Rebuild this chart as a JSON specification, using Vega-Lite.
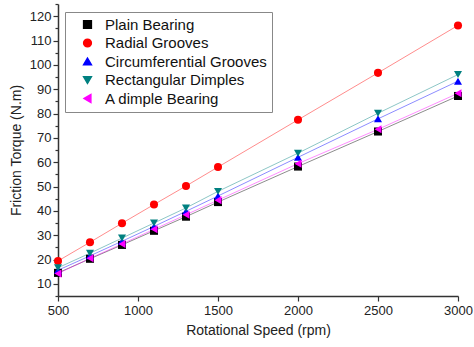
{
  "$schema": "https://vega.github.io/schema/vega-lite/v6.json",
  "width": 400,
  "height": 292,
  "autosize": {"type": "none"},
  "padding": {"left": 58, "top": 4, "right": 16, "bottom": 51},
  "background": "white",
  "config": {
    "view": {"stroke": null},
    "font": "Liberation Sans",
    "axis": {"domainColor": "#333333", "tickColor": "#333333", "labelColor": "#222222", "titleColor": "#222222", "domainWidth": 1.5, "tickWidth": 1.2, "grid": false, "labelFont": "Liberation Sans", "titleFont": "Liberation Sans", "titleFontWeight": "normal"},
    "legend": {"symbolOpacity": 1, "labelLimit": 300}
  },
  "data": {"values": [
    {"s": "Plain Bearing", "rpm": 500, "t": 14.5},
    {"s": "Plain Bearing", "rpm": 700, "t": 20.3},
    {"s": "Plain Bearing", "rpm": 900, "t": 26.0},
    {"s": "Plain Bearing", "rpm": 1100, "t": 31.8},
    {"s": "Plain Bearing", "rpm": 1300, "t": 37.6},
    {"s": "Plain Bearing", "rpm": 1500, "t": 43.6},
    {"s": "Plain Bearing", "rpm": 2000, "t": 58.2},
    {"s": "Plain Bearing", "rpm": 2500, "t": 72.6},
    {"s": "Plain Bearing", "rpm": 3000, "t": 87.2},
    {"s": "Radial Grooves", "rpm": 500, "t": 19.4},
    {"s": "Radial Grooves", "rpm": 700, "t": 27.1},
    {"s": "Radial Grooves", "rpm": 900, "t": 34.9},
    {"s": "Radial Grooves", "rpm": 1100, "t": 42.6},
    {"s": "Radial Grooves", "rpm": 1300, "t": 50.2},
    {"s": "Radial Grooves", "rpm": 1500, "t": 58.0},
    {"s": "Radial Grooves", "rpm": 2000, "t": 77.4},
    {"s": "Radial Grooves", "rpm": 2500, "t": 96.7},
    {"s": "Radial Grooves", "rpm": 3000, "t": 116.2},
    {"s": "Circumferential Grooves", "rpm": 500, "t": 15.6},
    {"s": "Circumferential Grooves", "rpm": 700, "t": 21.5},
    {"s": "Circumferential Grooves", "rpm": 900, "t": 27.5},
    {"s": "Circumferential Grooves", "rpm": 1100, "t": 33.6},
    {"s": "Circumferential Grooves", "rpm": 1300, "t": 39.8},
    {"s": "Circumferential Grooves", "rpm": 1500, "t": 46.1},
    {"s": "Circumferential Grooves", "rpm": 2000, "t": 62.0},
    {"s": "Circumferential Grooves", "rpm": 2500, "t": 77.8},
    {"s": "Circumferential Grooves", "rpm": 3000, "t": 93.3},
    {"s": "Rectangular Dimples", "rpm": 500, "t": 16.6},
    {"s": "Rectangular Dimples", "rpm": 700, "t": 22.6},
    {"s": "Rectangular Dimples", "rpm": 900, "t": 28.8},
    {"s": "Rectangular Dimples", "rpm": 1100, "t": 35.0},
    {"s": "Rectangular Dimples", "rpm": 1300, "t": 41.2},
    {"s": "Rectangular Dimples", "rpm": 1500, "t": 48.0},
    {"s": "Rectangular Dimples", "rpm": 2000, "t": 63.7},
    {"s": "Rectangular Dimples", "rpm": 2500, "t": 80.1},
    {"s": "Rectangular Dimples", "rpm": 3000, "t": 96.0},
    {"s": "A dimple Bearing", "rpm": 500, "t": 14.2},
    {"s": "A dimple Bearing", "rpm": 700, "t": 20.5},
    {"s": "A dimple Bearing", "rpm": 900, "t": 26.4},
    {"s": "A dimple Bearing", "rpm": 1100, "t": 32.4},
    {"s": "A dimple Bearing", "rpm": 1300, "t": 38.4},
    {"s": "A dimple Bearing", "rpm": 1500, "t": 44.4},
    {"s": "A dimple Bearing", "rpm": 2000, "t": 59.4},
    {"s": "A dimple Bearing", "rpm": 2500, "t": 73.5},
    {"s": "A dimple Bearing", "rpm": 3000, "t": 88.3}
  ]},
  "resolve": {"axis": {"y": "independent"}},
  "layer": [
    {
      "mark": {"type": "line", "strokeWidth": 1, "opacity": 0.45},
      "encoding": {
        "x": {"field": "rpm", "type": "quantitative", "scale": {"domain": [500, 3000], "nice": false},
          "axis": {"values": [500, 750, 1000, 1250, 1500, 1750, 2000, 2250, 2500, 2750, 3000], "format": "d", "tickSize": 5, "labelFontSize": 13, "labelPadding": 3, "title": "Rotational Speed (rpm)", "titleFontSize": 14, "titlePadding": 6, "labelFlush": false}},
        "y": {"field": "t", "type": "quantitative", "scale": {"domain": [5, 125], "nice": false, "zero": false},
          "axis": {"values": [10, 20, 30, 40, 50, 60, 70, 80, 90, 100, 110, 120], "tickSize": 5, "labelFontSize": 13, "labelPadding": 2, "title": "Friction Torque (N.m)", "titleFontSize": 14, "titlePadding": 6, "orient": "left"}},
        "color": {"field": "s", "type": "nominal",
          "scale": {"domain": ["Plain Bearing", "Radial Grooves", "Circumferential Grooves", "Rectangular Dimples", "A dimple Bearing"], "range": ["#000000", "#ff0000", "#0000ff", "#008080", "#ff00ff"]}}
      }
    },
    {
      "mark": {"type": "point", "filled": true, "opacity": 1, "size": 65},
      "encoding": {
        "x": {"field": "rpm", "type": "quantitative"},
        "y": {"field": "t", "type": "quantitative",
          "axis": {"values": [5, 15, 25, 35, 45, 55, 65, 75, 85, 95, 105, 115, 125], "labels": false, "domain": false, "tickSize": 3, "title": null, "orient": "left"}},
        "color": {"field": "s", "type": "nominal",
          "scale": {"domain": ["Plain Bearing", "Radial Grooves", "Circumferential Grooves", "Rectangular Dimples", "A dimple Bearing"], "range": ["#000000", "#ff0000", "#0000ff", "#008080", "#ff00ff"]},
          "legend": {"title": null, "orient": "none", "legendX": 7, "legendY": 8, "strokeColor": "#888888", "padding": 5, "labelFontSize": 15, "labelLimit": 300, "labelColor": "#111111", "symbolSize": 60, "symbolOpacity": 1, "rowPadding": 2.5, "labelOffset": 10, "symbolOffset": 10, "fillColor": "white"}},
        "shape": {"field": "s", "type": "nominal",
          "scale": {"domain": ["Plain Bearing", "Radial Grooves", "Circumferential Grooves", "Rectangular Dimples", "A dimple Bearing"], "range": ["square", "circle", "triangle-up", "triangle-down", "triangle-left"]},
          "legend": {"title": null, "orient": "none", "legendX": 7, "legendY": 8, "strokeColor": "#888888", "padding": 5, "labelFontSize": 15, "labelLimit": 300, "labelColor": "#111111", "symbolSize": 60, "symbolOpacity": 1, "rowPadding": 2.5, "labelOffset": 10, "symbolOffset": 10, "fillColor": "white"}}
      }
    }
  ]
}
